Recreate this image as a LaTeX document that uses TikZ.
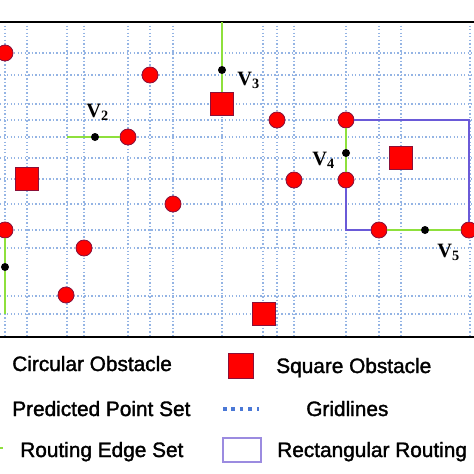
\documentclass[tikz,border=0pt]{standalone}
\usepackage{fontspec}
\setmainfont{Liberation Serif}
\newfontfamily\legendfont[FakeBold=1.6]{Liberation Sans}
\definecolor{obsred}{HTML}{FF0000}
\definecolor{obsedge}{HTML}{8A1038}
\definecolor{gridblue}{HTML}{94B4E4}
\definecolor{legblue}{HTML}{4A78D6}
\definecolor{routegreen}{HTML}{8EE03C}
\definecolor{routepurple}{HTML}{6A5AD8}
\definecolor{legpurple}{HTML}{9B8BE0}

\begin{document}
\begin{tikzpicture}[
    x=0.025cm, y=-0.025cm,
    circobs/.style={
        circle,
        fill=obsred,
        draw=obsedge,
        line width=0.6pt,
        minimum size=0.4cm,
        inner sep=0pt
    },
    sqobs/.style={
        rectangle,
        fill=obsred,
        draw=obsedge,
        line width=0.6pt,
        minimum size=0.575cm,
        inner sep=0pt
    },
    predpt/.style={circle, fill=black, minimum size=0.2cm, inner sep=0pt},
    gridline/.style={draw=gridblue, line width=1pt, dash pattern=on 1pt off 1.5pt},
    frameline/.style={draw=black, line width=1.9pt},
    routeedge/.style={draw=routegreen, line width=1.4pt},
    rectroute/.style={draw=routepurple, line width=1.2pt},
    vlabel/.style={anchor=base west, inner sep=0pt, font=\fontsize{14.5}{14}\selectfont\bfseries},
    legtext/.style={anchor=base west, inner sep=0pt, font=\legendfont\fontsize{14.8}{16}\selectfont}
]
    \useasboundingbox (0,0) rectangle (474,474);

    % gridlines
    \foreach \gx in {5,27,67,84,128,150,173,222,263,277,294,346,379,401,470}
        \draw[gridline] (\gx,22) -- (\gx,337);
    \foreach \gy in {53,75,104,120,137,158,179,204,230,248,296,314}
        \draw[gridline] (0,\gy) -- (474,\gy);

    \draw[frameline] (0,22) -- (474,22);
    \draw[frameline] (0,337) -- (474,337);

    % obstacles
    \node[circobs] (c1) at (5,53) {};
    \node[circobs] (c2) at (150,75) {};
    \node[circobs] (c3) at (128,137) {};
    \node[circobs] (c4) at (173,204) {};
    \node[circobs] (c5) at (5,230) {};
    \node[circobs] (c6) at (84,248) {};
    \node[circobs] (c7) at (66,295) {};
    \node[circobs] (c8) at (277,120) {};
    \node[circobs] (c9) at (346,120) {};
    \node[circobs] (c10) at (294,180) {};
    \node[circobs] (c11) at (346,180) {};
    \node[circobs] (c12) at (379,230) {};
    \node[circobs] (c13) at (469,230) {};

    \node[sqobs] (s1) at (222,104) {};
    \node[sqobs] (s2) at (27,179) {};
    \node[sqobs] (s3) at (401,158) {};
    \node[sqobs] (s4) at (264,314) {};

    % predicted points
    \node[predpt] (v1) at (5,267) {};
    \node[predpt] (v2) at (95,137) {};
    \node[predpt] (v3) at (222,70) {};
    \node[predpt] (v4) at (346,153) {};
    \node[predpt] (v5) at (425,230) {};

    \node[vlabel] (lv2) at (86,117) {V\textsubscript{2}};
    \node[vlabel] (lv3) at (237,85) {V\textsubscript{3}};
    \node[vlabel] (lv4) at (312,165) {V\textsubscript{4}};
    \node[vlabel] (lv5) at (437,257) {V\textsubscript{5}};

    % routing edges
    \coordinate (e1) at (5,314);
    \coordinate (e2) at (67,137);
    \coordinate (e3) at (222,22);
    \draw[routeedge] (c5) -- (v1) -- (e1);
    \draw[routeedge] (e2) -- (v2) -- (c3);
    \draw[routeedge] (e3) -- (v3) -- (s1);
    \draw[routeedge] (c9) -- (v4) -- (c11);
    \draw[routeedge] (c12) -- (v5) -- (c13);

    % rectangular routing
    \draw[rectroute] (c9) -- (c9 -| c13) -- (c13);
    \draw[rectroute] (c11) -- (c11 |- c12) -- (c12);

    % legend
    \node[legtext] (lcirc) at (12,371) {Circular Obstacle};
    \node[sqobs, minimum size=0.625cm] (ksq) at (241,366) {};
    \node[legtext] (lsq) at (276,373) {Square Obstacle};

    \node[legtext] (lpred) at (12,416) {Predicted Point Set};
    \coordinate (kg1) at (223,409);
    \coordinate (kg2) at (259,409);
    \draw[draw=legblue, line width=2.5pt, dash pattern=on 2.5pt off 3.5pt] (kg1) -- (kg2);
    \node[legtext] (lgrid) at (306,416) {Gridlines};

    \coordinate (ke1) at (0,448);
    \coordinate (ke2) at (3,448);
    \draw[routeedge] (ke1) -- (ke2);
    \node[legtext] (ledge) at (20,457) {Routing Edge Set};
    \node[draw=legpurple, line width=1.2pt, minimum width=0.95cm, minimum height=0.6cm, inner sep=0pt] (krect) at (242,450) {};
    \node[legtext] (lrect) at (277,457) {Rectangular Routing};
\end{tikzpicture}
\end{document}
